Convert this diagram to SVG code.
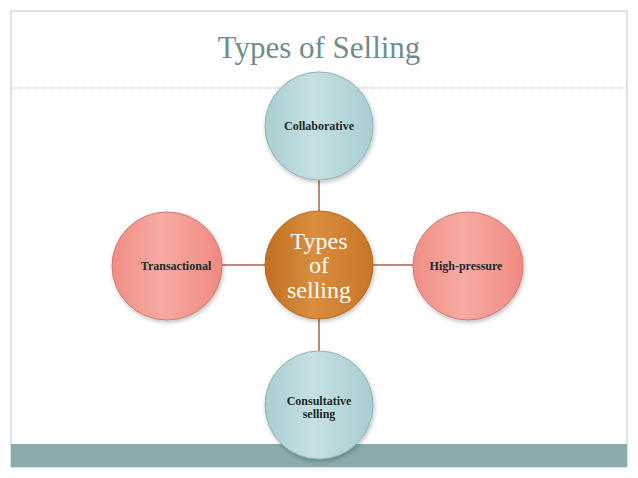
<svg xmlns="http://www.w3.org/2000/svg" width="638" height="478" viewBox="0 0 638 478">
<style>
.lbl{font-family:"Liberation Serif","DejaVu Serif",serif;font-weight:bold;font-size:12px;fill:#1a2a2a;text-anchor:middle}
.ctr{font-family:"Liberation Serif","DejaVu Serif",serif;font-size:24px;fill:#ffffff;text-anchor:middle}
.conn{stroke:#a0644a;stroke-width:1.5;fill:none}
.blue{fill:url(#gBlue);stroke:#8db4b8;stroke-width:1}
.red{fill:url(#gRed);stroke:#cf7a70;stroke-width:1}
</style>
<defs>
<linearGradient id="gBlue" x1="0" y1="0" x2="1" y2="0">
<stop offset="0" stop-color="#a9ced2"/><stop offset="0.45" stop-color="#c6e0e3"/><stop offset="1" stop-color="#a8cdd1"/>
</linearGradient>
<linearGradient id="gRed" x1="0" y1="0" x2="1" y2="0">
<stop offset="0" stop-color="#f08e84"/><stop offset="0.45" stop-color="#f7aba2"/><stop offset="1" stop-color="#f08a80"/>
</linearGradient>
<linearGradient id="gOr" x1="0" y1="0" x2="1" y2="0">
<stop offset="0" stop-color="#c0701e"/><stop offset="0.45" stop-color="#d98d3e"/><stop offset="1" stop-color="#c77726"/>
</linearGradient>
<filter id="sh" x="-20%" y="-20%" width="140%" height="140%">
<feDropShadow dx="1" dy="2" stdDeviation="2" flood-color="#000" flood-opacity="0.25"/>
</filter>
</defs>
<rect x="0" y="0" width="638" height="478" fill="#ffffff"/>
<rect x="11" y="11" width="616" height="456" fill="none" stroke="#b9cccc" stroke-width="1"/>
<line x1="11" y1="88" x2="627" y2="88" stroke="#a9bcbc" stroke-width="1" stroke-dasharray="1,1"/>
<rect x="11" y="444" width="616" height="23" fill="#8aabab"/>
<text x="319" y="58" font-family="Liberation Serif, DejaVu Serif, serif" font-size="31" fill="#6e8d8d" text-anchor="middle">Types of Selling</text>
<g id="connectors">
<line class="conn" x1="319" y1="180" x2="319" y2="212"/>
<line class="conn" x1="319" y1="319" x2="319" y2="351"/>
<line class="conn" x1="222" y1="265" x2="265" y2="265"/>
<line class="conn" x1="373" y1="265" x2="413" y2="265"/>
</g>
<g id="collaborative">
<circle class="blue" cx="319" cy="126" r="54" filter="url(#sh)"/>
<text class="lbl" x="319" y="130">Collaborative</text>
</g>
<g id="transactional">
<ellipse class="red" cx="167" cy="266" rx="55" ry="54" filter="url(#sh)"/>
<text class="lbl" x="176" y="270">Transactional</text>
</g>
<g id="high-pressure">
<ellipse class="red" cx="468" cy="266" rx="55" ry="54" filter="url(#sh)"/>
<text class="lbl" x="466" y="270">High-pressure</text>
</g>
<g id="consultative">
<circle class="blue" cx="319" cy="405" r="54" filter="url(#sh)"/>
<text class="lbl" x="319" y="405">Consultative</text>
<text class="lbl" x="319" y="418">selling</text>
</g>
<g id="center">
<circle cx="319" cy="265" r="54" fill="url(#gOr)" stroke="#b86a20" stroke-width="1" filter="url(#sh)"/>
<text class="ctr" x="319" y="249">Types</text>
<text class="ctr" x="319" y="273">of</text>
<text class="ctr" x="319" y="298">selling</text>
</g>
</svg>
